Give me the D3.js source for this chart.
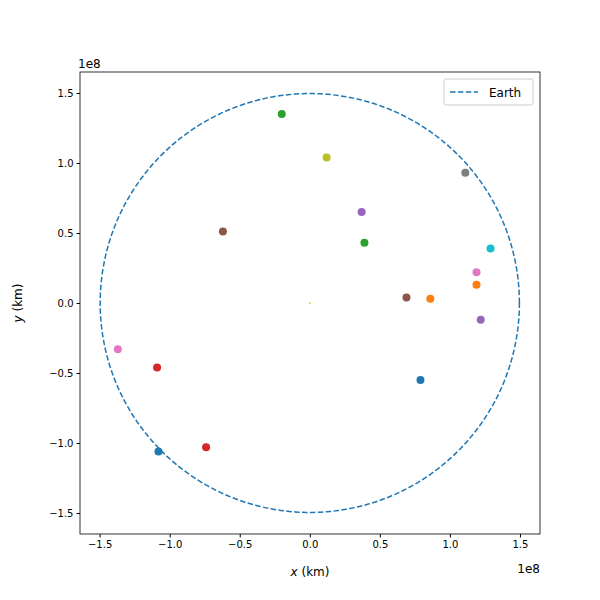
<!DOCTYPE html>
<html><head><meta charset="utf-8">
<script src="https://cdn.jsdelivr.net/npm/d3@7"></script>
<style>body{margin:0;background:#fff}text{font-family:"DejaVu Sans",sans-serif}</style>
</head><body><svg id="mainSVG" width="600" height="600"></svg>
<script>
// positions in units of 1e8 km
var xs = [-0.2, 0.12, 1.11, 0.37, -0.62, 0.39, 1.29, 1.19, 1.19, 0.69, 0.86, 1.22, -1.37, -1.09, 0.79, -0.74, -1.08];
var ys = [1.35, 1.04, 0.93, 0.65, 0.51, 0.43, 0.39, 0.22, 0.13, 0.04, 0.03, -0.12, -0.33, -0.46, -0.55, -1.03, -1.06];
var colors = ["#2ca02c","#bcbd22","#7f7f7f","#9467bd","#8c564b","#2ca02c","#17becf","#e377c2","#ff7f0e","#8c564b","#ff7f0e","#9467bd","#e377c2","#d62728","#1f77b4","#d62728","#1f77b4"];
var ticks = [-1.5, -1.0, -0.5, 0.0, 0.5, 1.0, 1.5];
var earthR = 1.496;

var svg = d3.select("#mainSVG");
var mLeft = 80, mRight = 540, mTop = 72, mBottom = 534;
var x = d3.scaleLinear().domain([-1.64, 1.643]).range([mLeft, mRight]);
var y = d3.scaleLinear().domain([-1.65, 1.65]).range([mBottom, mTop]);

var g = svg.append("g");
g.append("g").attr("transform", "translate(0," + mBottom + ")")
  .call(d3.axisBottom(x).tickValues(ticks).tickFormat(d3.format(".1f")).tickSizeOuter(0).tickSize(3.5));
g.append("g").attr("transform", "translate(" + mLeft + ",0)")
  .call(d3.axisLeft(y).tickValues(ticks).tickFormat(d3.format(".1f")).tickSizeOuter(0).tickSize(3.5));
g.selectAll(".tick text").style("font-size", "10px").attr("fill", "#000");
g.selectAll(".domain").remove();

// Earth orbit
var pts = d3.range(0, 361).map(function (a) {
  var t = a * Math.PI / 180;
  return [x(earthR * Math.cos(t)), y(earthR * Math.sin(t))];
});
svg.append("path").attr("d", d3.line()(pts)).attr("fill", "none")
  .attr("stroke", "#1f77b4").attr("stroke-width", 1.5).attr("stroke-dasharray", "5.5,2.4");

// Sun
svg.append("circle").attr("cx", x(0)).attr("cy", y(0)).attr("r", 1).attr("fill", "#ffd700");

svg.selectAll(".pt").data(xs).enter().append("circle")
  .attr("cx", function (d) { return x(d); })
  .attr("cy", function (d, i) { return y(ys[i]); })
  .attr("r", 4).attr("fill", function (d, i) { return colors[i]; });

svg.append("rect").attr("x", mLeft).attr("y", mTop).attr("width", mRight - mLeft).attr("height", mBottom - mTop)
  .attr("fill", "none").attr("stroke", "#000").attr("stroke-width", 0.8);

svg.append("text").attr("x", mLeft - 2).attr("y", 68).style("font-size", "12px").text("1e8");
svg.append("text").attr("x", mRight).attr("y", 573).attr("text-anchor", "end").style("font-size", "12px").text("1e8");
var xl = svg.append("text").attr("x", (mLeft + mRight) / 2).attr("y", 576).attr("text-anchor", "middle").style("font-size", "12px");
xl.append("tspan").attr("font-style", "italic").text("x");
xl.append("tspan").text(" (km)");
var yl = svg.append("text").attr("transform", "translate(22," + (mTop + mBottom) / 2 + ") rotate(-90)").attr("text-anchor", "middle").style("font-size", "12px");
yl.append("tspan").attr("font-style", "italic").text("y");
yl.append("tspan").text(" (km)");

// legend
var lg = svg.append("g").attr("transform", "translate(444,79)");
lg.append("rect").attr("width", 89).attr("height", 26).attr("rx", 2.5).attr("fill", "#fff").attr("stroke", "#ccc");
lg.append("line").attr("x1", 6).attr("x2", 34).attr("y1", 13).attr("y2", 13).attr("stroke", "#1f77b4").attr("stroke-width", 1.5).attr("stroke-dasharray", "5.5,2.4");
lg.append("text").attr("x", 45).attr("y", 17.5).style("font-size", "12px").text("Earth");
</script></body></html>
